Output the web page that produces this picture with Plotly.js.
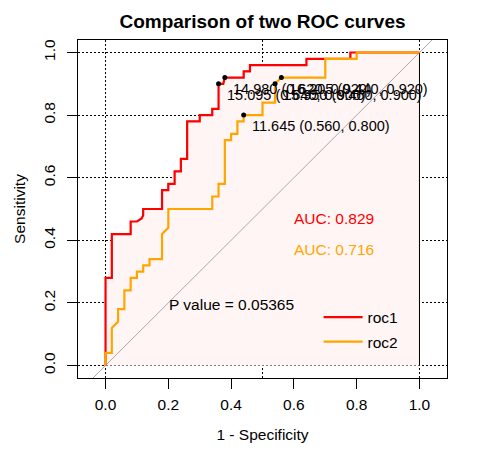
<!DOCTYPE html>
<html><head><meta charset="utf-8">
<script src="https://cdn.plot.ly/plotly-3.0.1.min.js"></script>
<style>html,body{margin:0;padding:0;background:#fff}#chart{width:487px;height:457px}</style>
</head><body><div id="chart"></div>
<script>
// ROC curve 1 (x = 1 - specificity, y = sensitivity)
const roc1Fpr = [0,0,0.02,0.02,0.08,0.08,0.10,0.115,0.12,0.12,0.18,0.18,0.20,0.20,0.22,0.22,0.24,0.24,0.26,0.26,0.30,0.30,0.34,0.34,0.36,0.36,0.375,0.38,0.44,0.44,0.46,0.46,0.64,0.64,0.78,0.78,1.0];
const roc1Tpr = [0,0.28,0.28,0.42,0.42,0.46,0.46,0.47,0.48,0.50,0.50,0.56,0.56,0.58,0.58,0.62,0.62,0.66,0.66,0.78,0.78,0.80,0.80,0.82,0.82,0.90,0.90,0.92,0.92,0.94,0.94,0.96,0.96,0.98,0.98,1.0,1.0];
// ROC curve 2
const roc2Fpr = [0,0,0.02,0.02,0.03,0.04,0.04,0.06,0.06,0.08,0.08,0.10,0.10,0.12,0.12,0.14,0.14,0.18,0.18,0.20,0.20,0.34,0.34,0.36,0.36,0.38,0.38,0.40,0.40,0.42,0.42,0.44,0.44,0.50,0.50,0.54,0.54,0.56,0.70,0.70,0.80,0.80,1.0];
const roc2Tpr = [0,0.04,0.04,0.12,0.13,0.14,0.18,0.18,0.24,0.24,0.28,0.28,0.30,0.30,0.32,0.32,0.34,0.34,0.42,0.44,0.50,0.50,0.54,0.54,0.58,0.58,0.72,0.72,0.74,0.74,0.78,0.78,0.80,0.80,0.84,0.84,0.90,0.92,0.92,0.98,0.98,1.0,1.0];
// best thresholds: value (specificity, sensitivity)
const thrSeries = ['roc1','roc1','roc2','roc2','roc2'];
const thrValue = ['14.980','15.095','16.205','15.950','11.645'];
const thrSpec = [0.620,0.640,0.440,0.460,0.560];
const thrSens = [0.920,0.900,0.920,0.900,0.800];
const seriesNames = ['roc1','roc2'];
const aucValues = [0.829, 0.716];
const pValue = 0.05365;
const tickVals = [0,0.2,0.4,0.6,0.8,1.0];
const tickText = ['0.0','0.2','0.4','0.6','0.8','1.0'];
const xGrid = [0,0.5,1];

const FONT = 'Liberation Sans, Arial, sans-serif';
const colors = {roc1:'#FF0000', roc2:'#FFA500'};

const traces = [];
// AUC polygon under roc1
traces.push({x: roc1Fpr.concat([1]), y: roc1Tpr.concat([0]), mode:'lines', fill:'toself',
  fillcolor:'#FFF5F5', line:{color:'#000000', width:1}, showlegend:false, hoverinfo:'skip'});
// identity line
traces.push({x:[-0.04,1.04], y:[-0.04,1.04], mode:'lines', line:{color:'#A9A9A9', width:1}, showlegend:false, hoverinfo:'skip'});
traces.push({x: roc1Fpr, y: roc1Tpr, mode:'lines', name: seriesNames[0], line:{color:colors.roc1, width:2.2}, legendgroup:'a'});
traces.push({x: roc2Fpr, y: roc2Tpr, mode:'lines', name: seriesNames[1], line:{color:colors.roc2, width:2.2}, legendgroup:'b'});
const thrX = thrSpec.map(s => 1 - s);
traces.push({x: thrX, y: thrSens, mode:'markers', marker:{color:'#000', size:5}, showlegend:false, hoverinfo:'skip'});

const annotations = [];
thrX.forEach((x, i) => {
  annotations.push({x: x, y: thrSens[i], xref:'x', yref:'y', xanchor:'left', yanchor:'middle',
    xshift: 7, yshift: -11, showarrow:false, borderpad:0,
    text: thrValue[i] + ' (' + thrSpec[i].toFixed(3) + ', ' + thrSens[i].toFixed(3) + ')',
    font:{family:FONT, size:14.5, color:'#000'}});
});
const aucY = [0.469, 0.370];
aucValues.forEach((a, i) => {
  annotations.push({x:0.596, y:aucY[i], xref:'x', yref:'y', xanchor:'left', yanchor:'middle', showarrow:false, borderpad:0,
    text:'AUC: ' + a.toFixed(3), font:{family:FONT, size:15.5, color: colors[seriesNames[i]]}});
});
annotations.push({x:0.4, y:0.195, xref:'x', yref:'y', xanchor:'center', yanchor:'middle', showarrow:false, borderpad:0,
  text:'P value = ' + pValue, font:{family:FONT, size:15.5, color:'#000'}});

const shapes = xGrid.map(g => ({type:'line', xref:'x', yref:'paper', x0:g, x1:g, y0:0, y1:1, layer:'below',
  line:{color:'#000', width:1, dash:'2px,2px'}}));

const layout = {
  width:487, height:457,
  margin:{l:78, r:40, t:40, b:79},
  paper_bgcolor:'#fff', plot_bgcolor:'#fff',
  font:{family:FONT, size:15.5, color:'#000'},
  title:{text:'Comparison of two ROC curves', font:{family:FONT, size:19, color:'#000', weight:'bold'},
    x:0.5, xref:'paper', xanchor:'center', y:1-21.5/457, yref:'container', yanchor:'middle'},
  xaxis:{range:[-0.0877,1.0877], tickmode:'array', tickvals:tickVals, ticktext:tickText,
    ticks:'outside', ticklen:10, tickcolor:'#000', tickwidth:1, showgrid:false, zeroline:false,
    showline:true, mirror:true, linecolor:'#000', linewidth:1, ticklabelstandoff:2,
    tickfont:{family:FONT, size:15.5}, title:{text:'1 - Specificity', font:{family:FONT, size:15.5}, standoff:17}},
  yaxis:{range:[-0.04,1.04], tickmode:'array', tickvals:tickVals, ticktext:tickText, tickangle:-90,
    ticks:'outside', ticklen:10, tickcolor:'#000', tickwidth:1, showgrid:true, gridcolor:'#000', griddash:'2px,2px', gridwidth:1,
    zeroline:false, showline:true, mirror:true, linecolor:'#000', linewidth:1, ticklabelstandoff:6,
    tickfont:{family:FONT, size:15.5}, title:{text:'Sensitivity', font:{family:FONT, size:15.5}, standoff:11}},
  legend:{x:0.652, y:0.229, xanchor:'left', yanchor:'top', bgcolor:'rgba(0,0,0,0)', borderwidth:0,
    itemwidth:39, traceorder:'grouped', tracegroupgap:1.4, font:{family:FONT, size:15.5}},
  shapes: shapes,
  annotations: annotations,
  showlegend:true
};
Plotly.newPlot('chart', traces, layout, {displayModeBar:false, staticPlot:true});
</script></body></html>
